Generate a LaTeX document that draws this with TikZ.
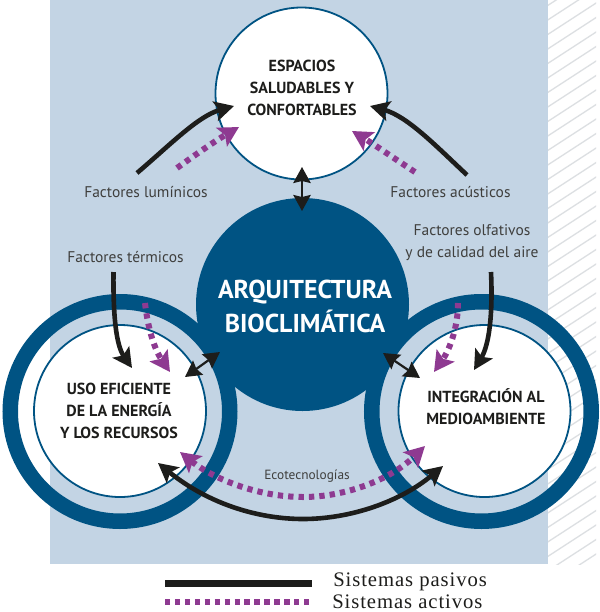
\documentclass[tikz,border=0pt]{standalone}
\usepackage{fontspec}
\setmainfont{PT Sans}
\newfontfamily\legendfont[LetterSpace=4.5]{Liberation Serif}
\usetikzlibrary{arrows.meta}
\definecolor{panel}{HTML}{C3D4E4}
\definecolor{deep}{HTML}{005383}
\definecolor{violet}{HTML}{8E3A91}
\definecolor{ink}{HTML}{1D1D1B}
\definecolor{stripe}{HTML}{DCDFE2}
\tikzset{
  x=0.75pt,y=-0.75pt,
  pxw/.style={line width=#1*0.75pt},
  ring/.style={draw=deep,pxw=15.5,fill=none,circle,minimum size=219.5*0.75pt,inner sep=0pt},
  disc/.style={circle,draw=deep,pxw=1.8,fill=white,minimum size=172*0.75pt,inner sep=0pt},
  hub/.style={circle,fill=deep,minimum size=213*0.75pt,inner sep=0pt},
  lab/.style={font=\fontsize{11.6}{16}\selectfont,text=ink!85!white,inner sep=0pt,align=center},
  captext/.style={font=\fontsize{12}{16.5}\selectfont\bfseries,text=ink,inner sep=0pt,align=center},
  blk/.style={Stealth[length=14.5pt,width=15pt,inset=3pt]},
  vio/.style={Stealth[length=15pt,width=16pt,inset=3pt]},
  lnk/.style={Stealth[length=12pt,width=13pt,inset=1.5pt]},
  pass/.style={draw=ink,pxw=4.6,-{Stealth[length=14.5pt,width=15pt,inset=3pt]}},
  passtwo/.style={draw=ink,pxw=4.6,{Stealth[length=14.5pt,width=15pt,inset=3pt]}-{Stealth[length=14.5pt,width=15pt,inset=3pt]}},
  act/.style={draw=violet,pxw=6,dash pattern=on 4pt off 3.8pt,-{Stealth[length=15pt,width=16pt,inset=3pt]}},
  acttwo/.style={draw=violet,pxw=6,dash pattern=on 4pt off 3.8pt,{Stealth[length=15pt,width=16pt,inset=3pt]}-{Stealth[length=15pt,width=16pt,inset=3pt]}},
  link/.style={draw=ink,pxw=2.2,{Stealth[length=12pt,width=13pt,inset=1.5pt]}-{Stealth[length=12pt,width=13pt,inset=1.5pt]}},
}
\begin{document}
\begin{tikzpicture}
\useasboundingbox (0,0) rectangle (600,612);
\fill[white] (0,0) rectangle (600,612);
% striped margin
\begin{scope}
\clip (548,0) rectangle (596,564);
\foreach \k in {0,...,45}{
  \draw[stripe,pxw=1.3] (540,{\k*14.5-4}) -- (604,{\k*14.5-4-41.6});
}
\end{scope}
\fill[panel] (50,0) rectangle (548,564);
% circles
\node[hub] (core) at (302.5,304.5) {};
\node[ring] (ringL) at (120,411.5) {};
\node[ring] (ringR) at (481.5,411.5) {};
\node[disc] (top) at (301.5,93.5) {};
\node[disc] (left) at (120,411) {};
\node[disc] (right) at (484.5,411) {};
% texts
\node[captext] (topT) at (302,88) {ESPACIOS\\SALUDABLES Y\\CONFORTABLES};
\node[captext] (leftT) at (119,411) {USO EFICIENTE\\DE LA ENERGÍA\\Y LOS RECURSOS};
\node[captext] (rightT) at (486,407) {INTEGRACIÓN AL\\MEDIOAMBIENTE};
\node[font=\fontsize{19.4}{25.5}\selectfont\bfseries,text=white,inner sep=0pt,align=center] (coreT) at (305,306) {ARQUITECTURA\\BIOCLIMÁTICA};
\node[lab] (lumT) at (146,192) {Factores lumínicos};
\node[lab] (acuT) at (450.5,192) {Factores acústicos};
\node[lab] (terT) at (125.5,257) {Factores térmicos};
\node[lab] (olfT) at (472,242.5) {Factores olfativos\\y de calidad del aire};
\node[lab,font=\fontsize{10}{12}\selectfont] (ecoT) at (307,476) {Ecotecnologías};
% end points
\coordinate (a1) at (137,173); \coordinate (a2) at (234,106);
\coordinate (b1) at (177,168); \coordinate (b2) at (239,127);
\coordinate (c1) at (467,175); \coordinate (c2) at (370,106);
\coordinate (d1) at (415,172); \coordinate (d2) at (352,131);
\coordinate (e1) at (302,167); \coordinate (e2) at (302,211);
\coordinate (f1) at (113.5,272); \coordinate (f2) at (132,368);
\coordinate (g1) at (145,303); \coordinate (g2) at (170,372);
\coordinate (h1) at (185,377); \coordinate (h2) at (220,352);
\coordinate (i1) at (491,272); \coordinate (i2) at (474,370);
\coordinate (j1) at (458,303); \coordinate (j2) at (434,372);
\coordinate (k1) at (383,353); \coordinate (k2) at (420,378);
\coordinate (m1) at (158,463); \coordinate (m2) at (443,466);
\coordinate (n1) at (180,452); \coordinate (n2) at (425,446);
% connectors
\path[pass] (a1) .. controls (170,145) and (198,116) .. (a2);
\path[act] (b1) .. controls (195,155) and (215,141) .. (b2);
\path[pass] (c1) .. controls (435,145) and (407,116) .. (c2);
\path[act] (d1) .. controls (395,159) and (375,145) .. (d2);
\path[link] (e1) -- (e2);
\path[pass] (f1) .. controls (113,315) and (116,345) .. (f2);
\path[act] (g1) .. controls (148,330) and (155,350) .. (g2);
\path[link] (h1) -- (h2);
\path[pass] (i1) .. controls (493,315) and (489,345) .. (i2);
\path[act] (j1) .. controls (458,330) and (448,352) .. (j2);
\path[link] (k1) -- (k2);
\path[passtwo] (m1) .. controls (210,505) and (260,519) .. (303,519) .. controls (350,519) and (400,502) .. (m2);
\path[acttwo] (n1) .. controls (215,480) and (260,497) .. (303,497) .. controls (345,497) and (390,480) .. (n2);
% legend
\coordinate (p1) at (165,583); \coordinate (p2) at (312,583);
\coordinate (q1) at (165,602); \coordinate (q2) at (312,602);
\draw[ink,pxw=7] (p1) -- (p2);
\draw[violet,pxw=6,dash pattern=on 4pt off 3.45pt] (q1) -- (q2);
\node[anchor=west,inner sep=0pt,font=\legendfont\fontsize{15.5}{17}\selectfont,text=ink] (pasT) at (333,582) {Sistemas pasivos};
\node[anchor=west,inner sep=0pt,font=\legendfont\fontsize{15.5}{17}\selectfont,text=ink] (actT) at (332,602) {Sistemas activos};
\end{tikzpicture}
\end{document}
